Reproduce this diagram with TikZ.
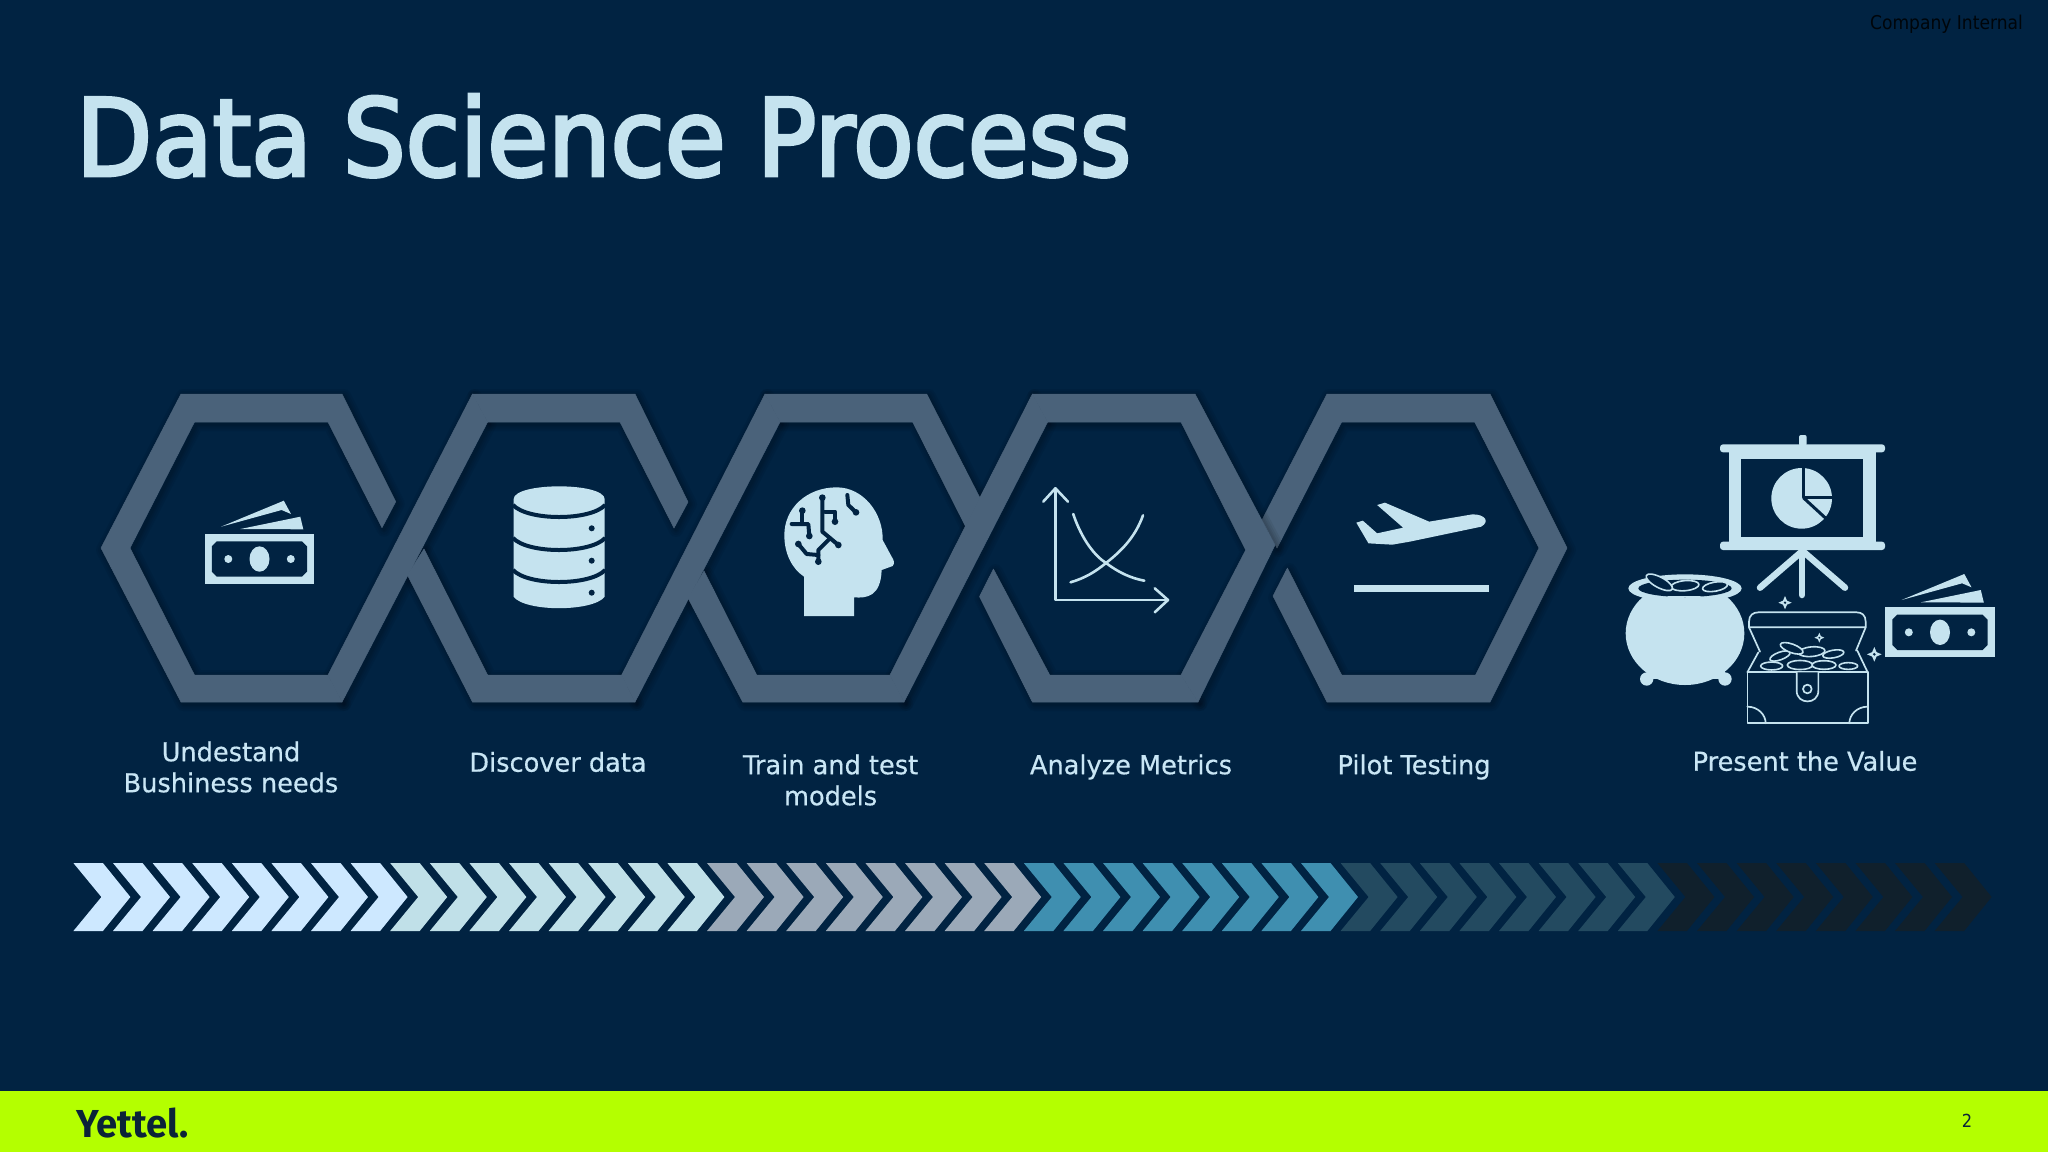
\documentclass[tikz,border=0pt]{standalone}
\usepackage{fontspec}
\setmainfont{DejaVu Sans}
\newfontfamily\titlefont[FakeStretch=0.922,FakeBold=3.2]{DejaVu Sans}
\newfontfamily\tahomaish[FakeStretch=0.985,FakeBold=0.5]{DejaVu Sans}
\newfontfamily\smallfont[FakeStretch=0.9]{DejaVu Sans}
\newfontfamily\logofont[FakeStretch=0.98]{Fira Sans}
\definecolor{bgc}{HTML}{012342}
\definecolor{lime}{HTML}{B4FF00}
\definecolor{bandc}{HTML}{4A627A}
\definecolor{iconc}{HTML}{C5E3EF}
\definecolor{labelc}{HTML}{C9E6F5}
\definecolor{logoc}{HTML}{0B2338}
\definecolor{chevA}{HTML}{CDE8FF}
\definecolor{chevB}{HTML}{C0E0E8}
\definecolor{chevC}{HTML}{9BA9B8}
\definecolor{chevD}{HTML}{3F8FB0}
\definecolor{chevE}{HTML}{234A60}
\definecolor{chevF}{HTML}{10202C}
\tikzset{
  bandfill/.style={fill=bandc,draw=bandc,line width=.5pt,line join=round},
  soft/.style={black,opacity=.06,line join=round,shift={(2,2)}},
  lab/.style={font=\tahomaish\fontsize{26}{31}\selectfont,text=labelc,align=center,inner sep=0pt},
  iconfill/.style={fill=iconc},
  iconline/.style={draw=iconc,line cap=round,line join=round},
  darkline/.style={draw=bgc,line cap=round,line join=round},
}
% hexagon pieces, in pixels
\def\hFive{(1273,596)--(1327,702)--(1490,702)--(1567,548)--(1490,394)--(1327,394)--(1262,520)--(1277,548)--(1341.6,422)--(1474.7,422)--(1539,548)--(1475.6,675)--(1341.6,675)--(1287.4,568)--cycle}
\def\hFourA{(979.5,596.7)--(993.4,569)--(1049.7,675)--(1181,675)--(1198,702)--(1032.4,702)--cycle}
\def\hFourB{(1032.4,394)--(1195,394)--(1275,545)--(1198,702)--(1181,675)--(1245.7,550)--(1181,422)--(1047.6,422)--cycle}
\def\bThree{(890,675)--(904,702)--(1047.6,422)--(1032.4,394)--cycle}
\def\hThreeA{(688,598)--(742.7,702)--(904,702)--(890,675)--(756.7,675)--(704,571)--cycle}
\def\hThreeB{(765,394)--(926.7,394)--(980,498)--(965.7,526.7)--(912.7,422)--(780,422)--cycle}
\def\bTwo{(621.7,675)--(635,702)--(780,422)--(765,394)--cycle}
\def\hTwoA{(407.4,575)--(472.5,702)--(635,702)--(621.7,675)--(487.6,675)--(424,549)--cycle}
\def\hTwoB{(472.5,394)--(635,394)--(688,502)--(674,528)--(620,422)--(487.6,422)--cycle}
\def\bOne{(328,675)--(342,702)--(487.6,422)--(472.5,394)--cycle}
\def\hOne{(395.7,501.7)--(342,394)--(181,394)--(101,548)--(181,702)--(342,702)--(328,675)--(194.5,675)--(130,548)--(194.5,422)--(328,422)--(382,527.7)--cycle}
\newcommand{\softshadow}[1]{%
  \foreach \w in {14,10,6,3}{\draw[soft,line width=\w pt] #1;}}
\newcommand{\moneyicon}{%
  \fill[iconfill] (204.5,534) rectangle (314.2,584);
  \fill[bgc] (216.8,541.3)--(302,541.3)--(307,546.3)--(307,571.7)--(302,576.7)--(216.8,576.7)--(211.8,571.7)--(211.8,546.3)--cycle;
  \fill[iconfill] (259.5,559) ellipse [x radius=10,y radius=12.7];
  \fill[iconfill] (228.3,559) circle [radius=4];
  \fill[iconfill] (290.8,559) circle [radius=4];
  \fill[iconfill] (221,526.7)--(283.8,500.7)--(291,514)--(281.6,510)--cycle;
  \fill[iconfill] (240.4,529)--(300.3,516.7)--(303.3,529.3)--cycle;
}
\newcommand{\spark}[3]{%
  \fill[iconfill] (#1,{#2-#3})--({#1+.3*#3},{#2-.3*#3})--({#1+#3},#2)--({#1+.3*#3},{#2+.3*#3})--(#1,{#2+#3})--({#1-.3*#3},{#2+.3*#3})--({#1-#3},#2)--({#1-.3*#3},{#2-.3*#3})--cycle;
  \fill[bgc] (#1,#2) circle [radius={.2*#3}];
}
\newcommand{\coin}[4]{%
  \draw[iconline,fill=bgc,line width=1.6pt,rotate around={#4:(#1,#2)}] (#1,#2) ellipse [x radius=#3,y radius={.36*#3}];
}
\newcommand{\chev}[2]{%
  \fill[#2,shift={({73.4+#1*39.6},0)}] (0,863)--(29.5,863)--(57,897)--(29.5,931)--(0,931)--(28,897)--cycle;
}
\begin{document}
\begin{tikzpicture}[x=1pt,y=-1pt]
\useasboundingbox (0,0) rectangle (2048,1152);
\fill[bgc] (0,0) rectangle (2048,1152);
\fill[lime] (0,1091) rectangle (2048,1152);

% title and header
\node[anchor=base west,inner sep=0pt,text=iconc,font=\titlefont\fontsize{107}{110}\selectfont] (title) at (76,175.7) {Data Science Process};
\node[anchor=base east,inner sep=0pt,text=black!85!bgc,font=\smallfont\fontsize{19}{22}\selectfont] (internal) at (2023,29) {Company Internal};

% hexagons
\softshadow{\hFive}
\fill[bandfill] \hFive;
\softshadow{\hFourA}\softshadow{\hFourB}\softshadow{\bThree}\softshadow{\hThreeA}\softshadow{\hThreeB}
\softshadow{\bTwo}\softshadow{\hTwoA}\softshadow{\hTwoB}\softshadow{\bOne}\softshadow{\hOne}
\fill[bandfill] \hFourA;
\fill[bandfill] \hFourB;
\fill[bandfill] \bThree;
\fill[bandfill] \hThreeA;
\fill[bandfill] \hThreeB;
\fill[bandfill] \bTwo;
\fill[bandfill] \hTwoA;
\fill[bandfill] \hTwoB;
\fill[bandfill] \bOne;
\fill[bandfill] \hOne;

% icon 1: money
\moneyicon

% icon 2: database
\fill[iconfill] (513.6,499.3) -- (513.6,596.7) .. controls (525,612) and (593,612) .. (604.7,596.7) -- (604.7,499.3) .. controls (604.7,482) and (513.6,482) .. (513.6,499.3) -- cycle;
\foreach \yy in {505,538,570}{
  \draw[darkline,line width=4pt,line cap=butt] (513,\yy) .. controls (528,{\yy+16}) and (590,{\yy+16}) .. (605.2,\yy);}
\foreach \yy in {528.3,560.7,592.7}{\fill[bgc] (591.7,\yy) circle [radius=3];}

% icon 3: head
\begin{scope}[shift={(600,380)},scale=1/3]
  \fill[iconfill] (612,708)--(762,708)--(762,652) .. controls (800,655) and (842,650) .. (845,570) -- (878,558) .. controls (885,550) and (882,540) .. (875,530) -- (848,480) .. controls (850,400) and (790,322) .. (710,322) .. controls (620,322) and (553,385) .. (553,465) .. controls (553,520) and (575,565) .. (612,590) -- cycle;
  \draw[darkline,line width=4pt] (667,353)--(667,455)--(715,495);
  \draw[darkline,line width=4pt] (690,475)--(655,510)--(655,545);
  \draw[darkline,line width=4pt] (655,525)--(620,522)--(595,492);
  \draw[darkline,line width=4pt] (675,395)--(705,395)--(705,425);
  \draw[darkline,line width=4pt] (575,432)--(625,432)--(628,468);
  \draw[darkline,line width=4pt] (607,392)--(607,432);
  \draw[darkline,line width=4pt] (742,345)--(745,375)--(768,397);
  \foreach \p in {(667,353),(705,425),(628,468),(607,392),(595,492),(655,545),(768,397),(715,495)}{\fill[bgc] \p circle [radius=10];}
\end{scope}

% icon 4: chart
\draw[iconline,line width=2.6pt] (1055.4,488.3)--(1055.4,600)--(1168,600);
\draw[iconline,line width=2.6pt] (1043.2,501.7)--(1055.4,488.3)--(1068,501.7);
\draw[iconline,line width=2.6pt] (1154.7,588.3)--(1168,600)--(1154.7,612.3);
\draw[iconline,line width=2.6pt] (1073.2,514) .. controls (1082,540) and (1095,556) .. (1106,563) .. controls (1118,572) and (1130,578) .. (1144.3,580.7);
\draw[iconline,line width=2.6pt] (1143,515.3) .. controls (1135,538) and (1120,552) .. (1106,563) .. controls (1095,572) and (1085,578) .. (1070.6,582.3);

% icon 5: plane and runway
\begin{scope}[shift={(950,370)},xscale=1/2.306,yscale=1/3]
  \fill[iconfill] (937,458)--(952,452)--(985,490)--(1045,473)--(985,405)--(1003,398)--(1105,455)--(1205,433) .. controls (1235,433) and (1245,455) .. (1225,470) -- (1060,515)--(1020,524)--(965,520)--cycle;
\end{scope}
\fill[iconfill] (1354,585.3) rectangle (1489,591.7);

% icon 6: board, pot, chest, money
\begin{scope}[shift={(1600,420)},scale=1/3]
  \fill[iconfill,rounded corners=2pt] (597,45) rectangle (620,78);
  \fill[iconfill,rounded corners=3pt] (360,73) rectangle (855,97);
  \fill[iconfill,rounded corners=3pt] (360,365) rectangle (855,390);
  \fill[iconfill] (388,90) rectangle (828,370);
  \fill[bgc] (423,117) rectangle (790,352);
  \fill[iconfill] (605,235) circle [radius=91];
  \draw[darkline,line width=3pt,line cap=butt] (610,140)--(610,233)--(700,233);
  \draw[darkline,line width=3pt,line cap=butt] (610,233)--(685,302);
  \draw[iconline,line width=6.5pt] (605,395)--(480,503);
  \draw[iconline,line width=6.5pt] (610,395)--(735,503);
  \draw[iconline,line width=6.5pt] (606,395)--(606,525);
  % pot
  \fill[iconfill] (255,640) ellipse [x radius=178,y radius=155];
  \fill[iconfill] (140,777) circle [radius=20];
  \fill[iconfill] (375,777) circle [radius=20];
  \fill[iconfill] (140,745) rectangle (375,777);
  \fill[iconfill] (135,510) rectangle (375,570);
  \fill[iconfill] (255,505) ellipse [x radius=170,y radius=42];
  \fill[bgc] (255,505) ellipse [x radius=140,y radius=26];
  \coin{345}{500}{38}{10}
  \coin{255}{497}{42}{5}
  \coin{178}{487}{44}{-28}
  \draw[iconline,line width=1.6pt] (205,530)--(300,530);
  % chest
  \begin{scope}[iconline,line width=1.7pt]
    \draw (447,622) -- (447,605) .. controls (447,585) and (460,577) .. (475,577) -- (770,577) .. controls (785,577) and (797,585) .. (797,605) -- (797,622) -- cycle;
    \draw (447,622)--(480,695);
    \draw (797,622)--(768,692);
    \draw (442,757)--(475,697);
    \draw (803,757)--(772,692);
    \draw (442,757) rectangle (803,910);
    \draw[fill=bgc] (590,757) -- (590,812) .. controls (590,855) and (655,855) .. (655,812) -- (655,757);
    \draw (622,807) circle [radius=13];
    \draw (442,860) .. controls (475,860) and (497,885) .. (497,910);
    \draw (803,860) .. controls (770,860) and (748,885) .. (748,910);
  \end{scope}
  \coin{515}{738}{33}{0}
  \coin{745}{738}{28}{0}
  \coin{600}{735}{38}{0}
  \coin{672}{735}{36}{0}
  \coin{540}{708}{32}{20}
  \coin{700}{702}{32}{10}
  \coin{635}{695}{40}{5}
  \coin{575}{685}{36}{-20}
  \spark{555}{548}{20}
  \spark{658}{653}{15}
  \spark{823}{703}{22}
\end{scope}
\begin{scope}[shift={(1680.5,73.3)}]
  \moneyicon
\end{scope}

% labels
\node[lab] (l1) at (231,767) {Undestand\\Bushiness needs};
\node[lab] (l2) at (558,762) {Discover data};
\node[lab] (l3) at (830.6,780) {Train and test\\models};
\node[lab] (l4) at (1131,767) {Analyze Metrics};
\node[lab] (l5) at (1414,767) {Pilot Testing};
\node[lab] (l6) at (1805,761) {Present the Value};

% chevrons
\foreach \i in {0,...,7}{\chev{\i}{chevA}}
\foreach \i in {8,...,15}{\chev{\i}{chevB}}
\foreach \i in {16,...,23}{\chev{\i}{chevC}}
\foreach \i in {24,...,31}{\chev{\i}{chevD}}
\foreach \i in {32,...,39}{\chev{\i}{chevE}}
\foreach \i in {40,...,47}{\chev{\i}{chevF}}

% footer
\node[anchor=base west,inner sep=0pt,text=logoc,font=\logofont\bfseries\fontsize{39}{40}\selectfont] (logo) at (76,1137) {Yettel.};
\node[inner sep=0pt,text=logoc,font=\smallfont\fontsize{18}{20}\selectfont] (pagenum) at (1967,1121) {2};
\end{tikzpicture}
\end{document}
